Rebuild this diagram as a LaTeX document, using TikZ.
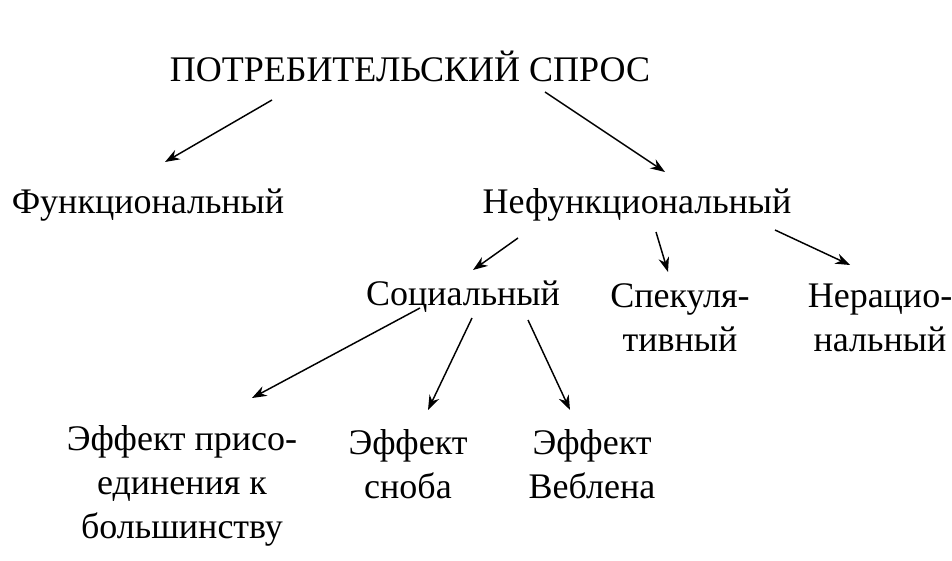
\documentclass[tikz,border=0pt]{standalone}
\usepackage{fontspec}
\setmainfont{Liberation Serif}
\usetikzlibrary{arrows.meta}
\begin{document}
\begin{tikzpicture}[x=0.75pt,y=-0.75pt,
  lbl/.style={font=\fontsize{27}{33}\selectfont,align=center,inner sep=0pt},
  arr/.style={line width=1.1pt,-{Stealth[length=11pt,width=8pt]}}]
\useasboundingbox (0,0) rectangle (952,560);
\node[lbl] (top) at (410,66) {ПОТРЕБИТЕЛЬСКИЙ СПРОС};
\node[lbl] (fun) at (148,205) {Функциональный};
\node[lbl] (nef) at (637,205) {Нефункциональный};
\node[lbl] (soc) at (463,297) {Социальный};
\node[lbl] (spe) at (680,318) {Спекуля-\\тивный};
\node[lbl] (ner) at (880,318) {Нерацио-\\нальный};
\node[lbl] (pri) at (182,486) {Эффект присо-\\единения к\\большинству};
\node[lbl] (sno) at (408,464) {Эффект\\сноба};
\node[lbl] (veb) at (592,464) {Эффект\\Веблена};
\coordinate (a1) at (272,100); \coordinate (b1) at (165,162);
\coordinate (a2) at (545,92);  \coordinate (b2) at (665,172);
\coordinate (a3) at (518,238); \coordinate (b3) at (473,270);
\coordinate (a4) at (656,232); \coordinate (b4) at (668,272);
\coordinate (a5) at (775,230); \coordinate (b5) at (850,265);
\coordinate (a6) at (420,308); \coordinate (b6) at (252,398);
\coordinate (a7) at (472,318); \coordinate (b7) at (428,410);
\coordinate (a8) at (528,320); \coordinate (b8) at (570,410);
\foreach \i in {1,...,8} \draw[arr] (a\i) -- (b\i);
\end{tikzpicture}
\end{document}
